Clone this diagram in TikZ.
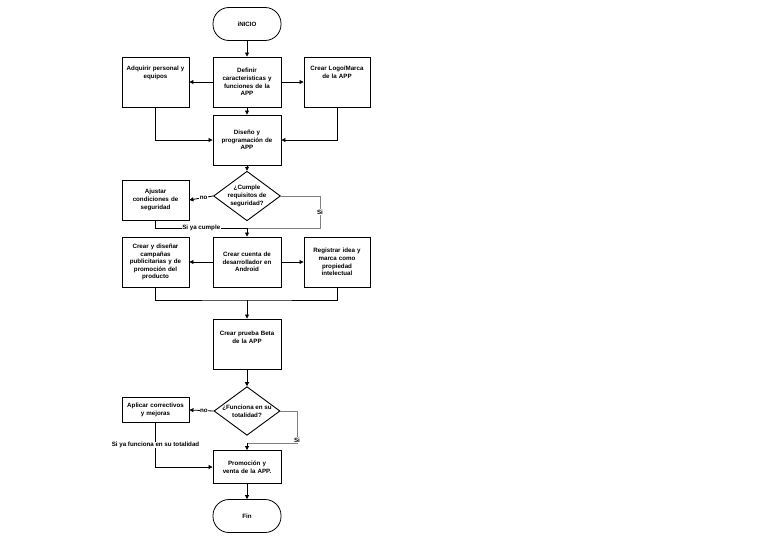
\documentclass[tikz,border=0pt]{standalone}
\usepackage{fontspec}
\setmainfont{Liberation Sans}
\usetikzlibrary{shapes.geometric,arrows.meta}
\begin{document}
\begin{tikzpicture}[x=1pt,y=-1pt,
  every node/.style={font=\fontsize{6.2}{7.6}\selectfont\bfseries},
  box/.style={draw,line width=0.9pt,minimum width=68pt,minimum height=50pt,align=center,text width=64pt,inner sep=1pt},
  term/.style={draw,line width=0.8pt,rounded corners=16pt,minimum width=68pt,minimum height=33pt},
  dia/.style={draw,line width=0.9pt,diamond,aspect=1.35,minimum width=66pt,minimum height=48pt,align=center,inner sep=0pt},
  arr/.style={draw,line width=0.8pt,-{Triangle[length=4pt,width=4pt]}},
  lbl/.style={fill=white,inner sep=0.5pt}]
\useasboundingbox (0,0) rectangle (768,543);
\node[term] (ini) at (247,24) {iNICIO};
\node[box] (def) at (247,82) {Definir\\caracteristicas y\\funciones de la\\APP};
\node[box,minimum width=67pt] (adq) at (155.5,82) {Adquirir personal y\\equipos\\[12pt]\mbox{}};
\node[box,minimum width=66pt] (logo) at (337,82) {Crear Logo/Marca\\de la APP\\[12pt]\mbox{}};
\node[box] (dis) at (247,140) {Diseño y\\programación de\\APP};
\node[dia] (c1) at (247,196) {¿Cumple\\requisitos de\\seguridad?};
\node[box,minimum width=67pt,minimum height=40pt] (aju) at (155.5,200) {Ajustar\\condiciones de\\seguridad};
\node[box,minimum width=67pt] (camp) at (155.5,262) {Crear y diseñar\\campañas\\publicitarias y de\\promoción del\\producto};
\node[box] (cta) at (247,262) {Crear cuenta de\\desarrollador en\\Android};
\node[box,minimum width=66pt] (reg) at (337,262) {Registrar idea y\\marca como\\propiedad\\intelectual};
\node[box] (beta) at (247,344) {Crear prueba Beta\\de la APP\\[6pt]\mbox{}};
\node[dia] (c2) at (247,411) {¿Funciona en su\\totalidad?};
\node[box,minimum width=67pt,minimum height=25pt] (apl) at (155.5,410) {Aplicar correctivos\\y mejoras};
\node[box,minimum height=33pt] (pro) at (247,467) {Promoción y\\venta de la APP.};
\node[term] (fin) at (247,516) {Fin};
\coordinate (j1) at (247,228);
\coordinate (j2) at (247,300);
\coordinate (j3) at (247,443);
\path[arr] (ini) -- (def);
\path[arr] (def) -- (adq);
\path[arr] (def) -- (logo);
\path[arr] (def) -- (dis);
\path[arr] (adq.south) |- (dis.west);
\path[arr] (logo.south) |- (dis.east);
\path[arr] (dis) -- (c1);
\path[arr] (c1.west) -- node[lbl,pos=0.4]{no} (aju.east);
\draw[line width=0.8pt] (aju.south) |- node[lbl,pos=0.75]{Si ya cumple} (j1);
\draw[gray,line width=0.8pt] (c1.east) -| node[lbl,pos=0.75,text=black]{Si} (320,228) -- (j1);
\path[arr] (j1) -- (cta.north);
\path[arr] (cta) -- (camp);
\path[arr] (cta) -- (reg);
\draw[line width=0.8pt] (camp.south) |- (j2) -| (reg.south);
\path[arr] (j2) -- (beta.north);
\path[arr] (beta) -- (c2);
\path[arr] (c2.west) -- node[lbl,pos=0.4]{no} (apl.east);
\path[arr] (apl.south) |- node[lbl,pos=0.25]{Si ya funciona en su totalidad} (pro.west);
\draw[gray,line width=0.8pt] (c2.east) -| node[lbl,pos=0.95,text=black]{Si} (297,443) -- (j3);
\path[arr] (j3) -- (pro.north);
\path[arr] (pro) -- (fin);
\end{tikzpicture}
\end{document}
